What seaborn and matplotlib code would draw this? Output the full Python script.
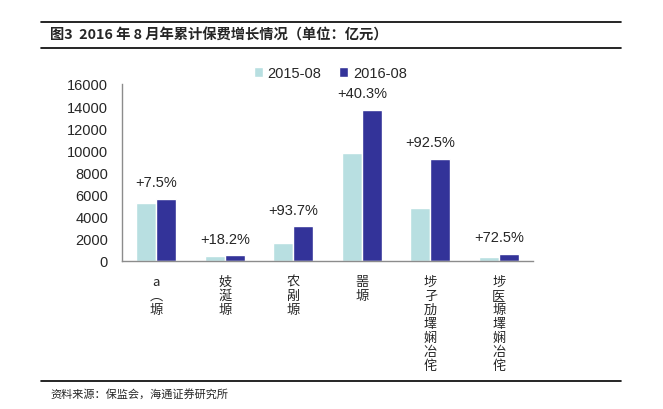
import matplotlib
matplotlib.use("Agg")
import matplotlib.pyplot as plt
from matplotlib.lines import Line2D
import pandas as pd
import seaborn as sns

# data (unit: 100 million yuan)
categories = ["a︵塬", "妓涎塬", "农剐塬", "噐塬", "埗孑劢墿娴冶侘", "埗医塬墿娴冶侘"]
values_2015 = [5220, 420, 1620, 9750, 4800, 380]
values_2016 = [5610, 497, 3140, 13680, 9240, 655]
growth = ["+7.5%", "+18.2%", "+93.7%", "+40.3%", "+92.5%", "+72.5%"]
periods = ["2015-08", "2016-08"]

df = pd.DataFrame({
    "cat": categories * 2,
    "period": [periods[0]] * 6 + [periods[1]] * 6,
    "value": values_2015 + values_2016,
})

sns.set_style("white")
plt.rcParams["font.family"] = ["Liberation Sans", "Noto Sans CJK SC"]

fig = plt.figure(figsize=(6.63, 4.10), dpi=100)
ax = fig.add_axes([0.184, 0.361, 0.620, 0.432])

sns.barplot(data=df, x="cat", y="value", hue="period", order=categories,
            hue_order=periods, palette=["#b8dfe1", "#333399"],
            width=0.58, gap=0, saturation=1, ax=ax, legend=True)

ax.set_ylim(0, 16000)
ax.set_xlim(-0.5, len(categories) - 0.5)
ax.set_yticks(range(0, 16001, 2000))
ax.set_xlabel("")
ax.set_ylabel("")
sns.despine(ax=ax)
for s in ("left", "bottom"):
    ax.spines[s].set_color("#8c8c8c")
    ax.spines[s].set_linewidth(1.0)

ax.tick_params(axis="y", direction="out", length=4, color="#8c8c8c",
               labelsize=10.5, pad=6)
ax.set_xticks(range(len(categories)))
ax.set_xticklabels(["\n".join(c) for c in categories],
                   family="Noto Sans CJK SC", fontsize=9.5, linespacing=1.1)
ax.tick_params(axis="x", length=0, pad=10)
ax.set_xticks([i - 0.5 for i in range(len(categories) + 1)], minor=True)
ax.tick_params(axis="x", which="minor", direction="out", length=4,
               color="#8c8c8c")

# growth labels above each group
for i, lab in enumerate(growth):
    top = max(values_2015[i], values_2016[i])
    ax.annotate(lab, (i, top), xytext=(0, 7), textcoords="offset points",
                ha="center", va="bottom", fontsize=10.5)

ax.legend(loc="center", bbox_to_anchor=(0.498, 0.8195),
          bbox_transform=fig.transFigure, ncol=2, frameon=False,
          fontsize=10.5, handlelength=0.65, handleheight=0.65,
          handletextpad=0.3, columnspacing=1.2)

# header / footer
for y in (23, 49, 382):
    fig.add_artist(Line2D([41 / 663, 621 / 663], [1 - y / 410] * 2,
                          transform=fig.transFigure, color="black", lw=1.2))
fig.text(50 / 663, 1 - 36 / 410, "图3  2016 年 8 月年累计保费增长情况（单位：亿元）",
         family=["Noto Sans CJK SC"], fontweight="bold", fontsize=10.3,
         va="center", ha="left")
fig.text(50 / 663, 1 - 394 / 410, "资料来源：保监会，海通证券研究所",
         family=["Noto Sans CJK SC"], fontsize=8, va="center", ha="left")

fig.savefig("out.png", dpi=100)
